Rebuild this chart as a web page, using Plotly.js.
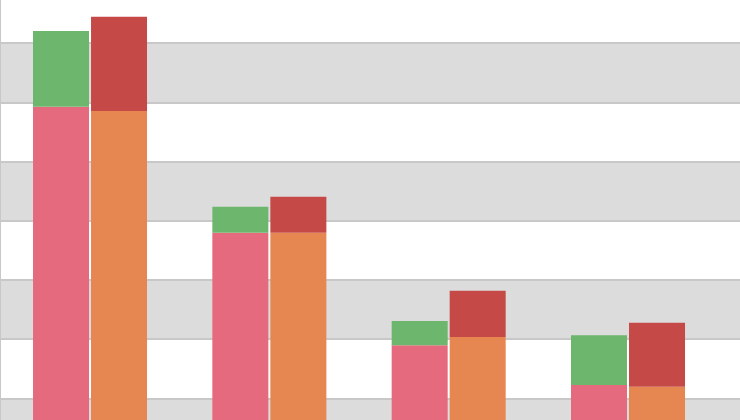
<!DOCTYPE html>
<html>
<head>
<meta charset="utf-8">
<script src="https://cdn.plot.ly/plotly-3.0.1.min.js"></script>
<style>html,body{margin:0;padding:0;background:#fff;}#chart{width:740px;height:420px;}</style>
</head>
<body>
<div id="chart"></div>
<script>
// Data
const categories = ['A', 'B', 'C', 'D'];
const pinkValues   = [59.3, 38.0, 19.0, 12.3];
const greenValues  = [12.8, 4.4, 4.1, 8.4];
const orangeValues = [58.6, 38.0, 20.4, 12.0];
const redValues    = [15.9, 6.1, 7.8, 10.8];
const gridTicks = [10, 20, 30, 40, 50, 60, 70];
const grayBandStarts = [0, 20, 40, 60];
const bandSize = 10;

const barWidth = 0.3123;
const leftOffset = -0.3179;
const rightOffset = 0.0056;

const pinkTotals = pinkValues.map((v, i) => v + greenValues[i]);
const orangeTotals = orangeValues.map((v, i) => v + redValues[i]);

const traces = [
  {type: 'bar', x: categories, y: pinkValues, base: categories.map(() => 0),
   width: barWidth, offset: leftOffset, marker: {color: '#e56a7d', line: {width: 0}}, name: 'pink'},
  {type: 'bar', x: categories, y: greenValues, base: pinkValues,
   width: barWidth, offset: leftOffset, marker: {color: '#6cb66e', line: {width: 0}}, name: 'green'},
  {type: 'bar', x: categories, y: orangeValues, base: categories.map(() => 0),
   width: barWidth, offset: rightOffset, marker: {color: '#e68650', line: {width: 0}}, name: 'orange'},
  {type: 'bar', x: categories, y: redValues, base: orangeValues,
   width: barWidth, offset: rightOffset, marker: {color: '#c54a47', line: {width: 0}}, name: 'red'}
];

const shapes = grayBandStarts.map(s => ({
  type: 'rect', xref: 'paper', yref: 'y', x0: 0, x1: 1, y0: s, y1: s + bandSize,
  fillcolor: '#dcdcdc', line: {width: 0}, layer: 'below'
}));
shapes.push({type: 'line', xref: 'paper', yref: 'paper', x0: 0, x1: 0, y0: 0, y1: 1,
  line: {color: '#c8c8c8', width: 2}, layer: 'above'});

const layout = {
  width: 740, height: 420,
  margin: {l: 0, r: 0, t: 0, b: 0, pad: 0},
  paper_bgcolor: '#ffffff', plot_bgcolor: '#ffffff',
  barmode: 'overlay',
  showlegend: false,
  xaxis: {type: 'category', range: [-0.502, 3.6245], showgrid: false, zeroline: false,
          showticklabels: false, ticks: '', showline: false, fixedrange: true},
  yaxis: {range: [6.37, 77.35], tickmode: 'array', tickvals: gridTicks, showgrid: true,
          gridcolor: '#c8c8c8', gridwidth: 2, zeroline: false, showticklabels: false,
          ticks: '', showline: false, fixedrange: true},
  shapes: shapes
};

Plotly.newPlot('chart', traces, layout, {displayModeBar: false, staticPlot: true});
</script>
</body>
</html>
